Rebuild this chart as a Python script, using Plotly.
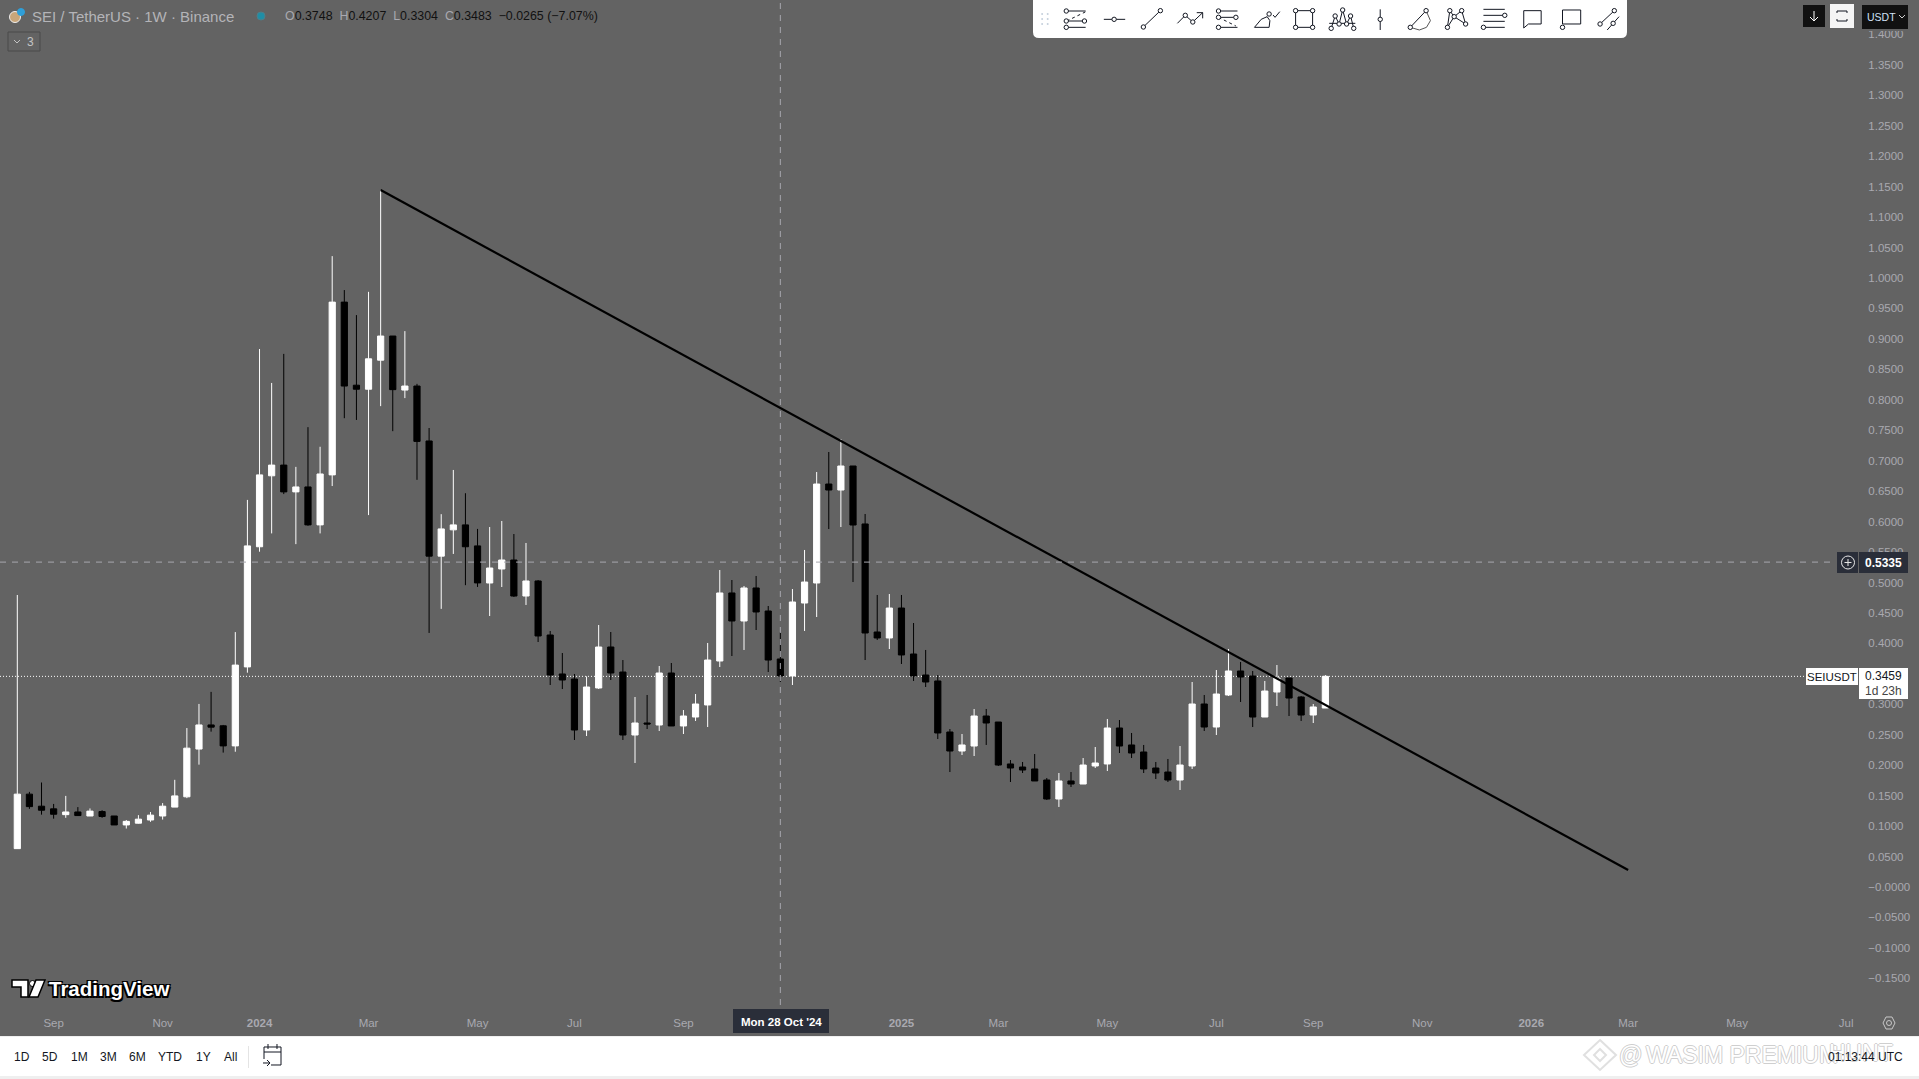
import pandas as pd
import plotly.graph_objects as go

# weekly SEIUSDT candles
first_week = "2023-08-14"
opens = [.0630, .1525, .1327, .1283, .1188, .1232, .1166, .1239, .1166, .1019, .1048, .1100, .1166, .1312, .1481, .2265,
         .2661, .2647, .2317, .3614, .5587, .6752, .6928, .6488, .6569, .5946, .6767, .9604, .8240, .8174, .8651, .9047,
         .8160, .8226, .7324, .5433, .5865, .5946, .5601, .4992, .5222, .5369, .4778, .5025, .4138, .3498, .3415, .2578,
         .3268, .3941, .3530, .2496, .2693, .2660, .3514, .2644, .2791, .2989, .3711, .4828, .4368, .4910, .4532, .3744,
         .3465, .4663, .4992, .6617, .6519, .6913, .5961, .4187, .4089, .4581, .3826, .3481, .3383, .2545, .2233, .2315,
         .2808, .2709, .2020, .1970, .1938, .1757, .1445, .1741, .1691, .1987, .2020, .2611, .2332, .2217, .1954, .1888,
         .1757, .1987, .3005, .2627, .3153, .3547, .3465, .2791, .3202, .3432, .3120, .2824, .2939]
highs = [.4795, .1562, .1716, .1364, .1496, .1312, .1290, .1261, .1166, .1100, .1180, .1232, .1378, .1760, .2610, .3006,
         .3204, .2661, .4186, .6356, .8834, .8277, .8754, .6899, .7551, .7229, 1.0359, .9802, .9391, .9773, 1.1444, .9047,
         .9128, .8262, .7537, .6122, .6848, .6466, .5880, .5911, .6010, .5796, .5649, .5041, .4204, .3842, .3498, .3459,
         .4302, .4187, .3727, .3120, .3153, .3629, .3678, .2906, .3169, .4007, .5205, .5041, .4943, .5107, .4614, .4187,
         .4893, .5534, .6814, .7143, .7356, .6913, .6125, .4795, .4811, .4795, .4335, .3892, .3481, .2594, .2512, .2923,
         .2923, .2709, .2085, .2053, .2184, .1790, .1872, .1888, .2118, .2299, .2759, .2742, .2529, .2332, .2053, .2102,
         .2315, .3366, .3153, .3563, .3908, .3695, .3547, .3383, .3645, .3432, .3136, .3005, .3481]
lows = [.0630, .1283, .1188, .1122, .1136, .1166, .1166, .1136, .1019, .0960, .1041, .1070, .1107, .1312, .1459, .2009,
        .2551, .2207, .2221, .3519, .5506, .5806, .6452, .5630, .5931, .5806, .6584, .7698, .7669, .6107, .7896, .7485,
        .8028, .6686, .4172, .4567, .5469, .4956, .4927, .4450, .4926, .4762, .4631, .4023, .3317, .3251, .2414, .2479,
        .3251, .3399, .2414, .2036, .2594, .2562, .2644, .2512, .2726, .2627, .3612, .3793, .3892, .4220, .3530, .3366,
        .3317, .4204, .4433, .5878, .5911, .5008, .3727, .4056, .3908, .3662, .3383, .3284, .2430, .1888, .2167, .2151,
        .2332, .1987, .1724, .1872, .1741, .1429, .1314, .1642, .1691, .1954, .1905, .2200, .2118, .1872, .1773, .1724,
        .1593, .1938, .2562, .2496, .3136, .3038, .2627, .2791, .2972, .2808, .2726, .2693, .2939]
closes = [.1525, .1320, .1261, .1195, .1232, .1173, .1246, .1158, .1019, .1078, .1114, .1180, .1327, .1496, .2280, .2661,
          .2625, .2317, .3644, .5601, .6767, .6928, .6488, .6569, .5946, .6782, .9604, .8226, .8174, .8673, .9047, .8167,
          .8226, .7317, .5433, .5880, .5946, .5587, .4993, .5238, .5369, .4778, .5025, .4122, .3481, .3399, .2578, .3284,
          .3941, .3514, .2496, .2693, .2677, .3514, .2644, .2808, .3005, .3727, .4828, .4368, .4910, .4516, .3727, .3465,
          .4680, .5008, .6617, .6519, .6913, .5944, .4171, .4089, .4581, .3810, .3465, .3366, .2529, .2233, .2332, .2808,
          .2693, .2003, .1954, .1921, .1741, .1445, .1741, .1691, .2003, .2036, .2611, .2315, .2200, .1938, .1872, .1757,
          .2003, .3005, .2627, .3169, .3547, .3448, .2791, .3218, .3432, .3103, .2824, .2956, .3459]

trend_dates = ["2024-03-11", "2026-03-02"]
trend_prices = [1.1444, .0280]

price_ticks = [1.40, 1.35, 1.30, 1.25, 1.20, 1.15, 1.10, 1.05, 1.00, .95, .90, .85, .80, .75, .70, .65, .60, .55, .50,
               .45, .40, .35, .30, .25, .20, .15, .10, .05, 0, -.05, -.10, -.15]
price_labels = ["1.4000", "1.3500", "1.3000", "1.2500", "1.2000", "1.1500", "1.1000", "1.0500", "1.0000", "0.9500",
                "0.9000", "0.8500", "0.8000", "0.7500", "0.7000", "0.6500", "0.6000", "0.5500", "0.5000", "0.4500",
                "0.4000", "0.3500", "0.3000", "0.2500", "0.2000", "0.1500", "0.1000", "0.0500", "−0.0000", "−0.0500",
                "−0.1000", "−0.1500"]
date_ticks = ["2023-09-04", "2023-11-06", "2024-01-01", "2024-03-04", "2024-05-06", "2024-07-01", "2024-09-02",
              "2025-01-06", "2025-03-03", "2025-05-05", "2025-07-07", "2025-09-01", "2025-11-03", "2026-01-05",
              "2026-03-02", "2026-05-04", "2026-07-06"]
date_labels = ["Sep", "Nov", "<b>2024</b>", "Mar", "May", "Jul", "Sep", "<b>2025</b>", "Mar", "May", "Jul", "Sep", "Nov",
               "<b>2026</b>", "Mar", "May", "Jul"]

last_price = .3459
cross_price = .5335
cross_date = "2024-10-28"
range_buttons = ["1D", "5D", "1M", "3M", "6M", "YTD", "1Y", "All"]

W, H = 1919, 1079
PLOT_W, PLOT_H = 1860, 1005
BG = "#636363"
AXIS_TEXT = "#a9a9b0"
DARK = "#2a2e39"
FONT = "Liberation Sans"


def fx(p):
    return p / PLOT_W


def fy(p):
    return 1 - p / PLOT_H


shapes = []
annotations = []


def rect(x0, y0, x1, y1, fill, line=None, layer="above"):
    shapes.append(dict(type="rect", xref="paper", yref="paper", x0=fx(x0), x1=fx(x1), y0=fy(y0), y1=fy(y1),
                       fillcolor=fill, line=dict(color=line or fill, width=1 if line else 0), layer=layer))


def path(pts, color="#131722", width=1, fill=None, close=False, dash=None):
    d = "M " + " L ".join(f"{fx(x):.5f} {fy(y):.5f}" for x, y in pts) + (" Z" if close else "")
    shapes.append(dict(type="path", xref="paper", yref="paper", path=d, layer="above", fillcolor=fill,
                       line=dict(color=color, width=width, dash=dash)))


def dot(x, y, r=2.2, fill="white", color="#131722", width=1):
    shapes.append(dict(type="circle", xref="paper", yref="paper", x0=fx(x - r), x1=fx(x + r), y0=fy(y + r), y1=fy(y - r),
                       fillcolor=fill, line=dict(color=color, width=width), layer="above"))


def label(x, y, text, size=12, color="#131722", anchor="left", **font):
    annotations.append(dict(xref="paper", yref="paper", x=fx(x), y=fy(y), text=text, showarrow=False, xanchor=anchor,
                            yanchor="middle", borderpad=0, font=dict(family=FONT, size=size, color=color, **font)))


# bottom strip
rect(0, 1037, W, 1076, "white")
rect(0, 1076, W, H, "#efefef")
rect(0, 1036, W, 1037, "#f0f0f0")

# header
label(31, 16, "SEI / TetherUS · 1W · Binance", size=15, color="#b4b4b8")
dot(15, 17, r=5.5, fill="#c9a67a", color="#eeeeee", width=1)
dot(21, 12, r=3.5, fill="#2f9fd8", color="#2f9fd8")
dot(261, 16, r=4, fill="#1f8ea6", color="#4d7f8a", width=1)
g = '<span style="color:#a9a9b0">%s</span>'
label(284, 16, (g % "O") + "0.3748  " + (g % "H") + "0.4207  " + (g % "L") + "0.3304  " + (g % "C") + "0.3483  −0.0265 (−7.07%)",
      size=12.4, color="#111111")
rect(8, 32, 40, 51, BG, line="#4b4b4b")
path([(14, 40), (17, 43), (20, 40)], color="#c4c4c4", width=1)
label(26, 42, "3", size=12, color="#c4c4c4")

# drawing toolbar, icon points taken from a zoomed crop of it
shapes.append(dict(type="path", xref="paper", yref="paper", layer="above", fillcolor="white", line=dict(width=0),
                   path=f"M {fx(1033)} {fy(0)} L {fx(1627)} {fy(0)} L {fx(1627)} {fy(32)} Q {fx(1627)} {fy(38)} {fx(1621)} {fy(38)} "
                        f"L {fx(1039)} {fy(38)} Q {fx(1033)} {fy(38)} {fx(1033)} {fy(32)} Z"))


def zx(v):
    return 1020 + v / 2.529


def zy(v):
    return v / 3


def zline(*pts, **kw):
    path([(zx(a), zy(b)) for a, b in pts], **kw)


def zdots(*pts):
    for a, b in pts:
        dot(zx(a), zy(b))


for a in (56, 70):
    for b in (42, 57, 72):
        dot(zx(a), zy(b), r=1, fill="#c5d0dc", color="#c5d0dc", width=0)
zline((118, 33), (166, 33)); zline((118, 63), (160, 63)); zline((118, 82), (166, 82))
zline((118, 63), (165, 36), dash="dot")
zdots((117, 33), (117, 63), (117, 82), (163, 63))
zline((212, 58), (266, 58)); zdots((238, 58))
zline((312, 81), (355, 32)); zdots((312, 81), (355, 32))
zline((398, 70), (418, 46), (437, 66), (462, 38)); zline((447, 38), (462, 38), (462, 55)); zdots((418, 46), (437, 66))
zline((500, 33), (550, 33)); zline((500, 52), (550, 52)); zline((500, 82), (550, 82))
zline((502, 52), (546, 78), dash="dot"); zdots((502, 33), (502, 52), (502, 82), (546, 52))
zline((593, 82), (630, 82), (632, 62), (625, 50), (610, 58), (593, 82)); zline((640, 45), (645, 52), (657, 35)); dot(zx(630), zy(42))
zline((697, 32), (740, 32), (740, 82), (697, 82), close=True); zdots((697, 32), (740, 32), (740, 82), (697, 82))
zline((782, 70), (848, 70))
zline((787, 85), (797, 48), (807, 72), (816, 30), (826, 72), (836, 48), (844, 85))
zdots((787, 85), (797, 48), (807, 72), (816, 30), (826, 72), (836, 48), (844, 85))
zline((911, 28), (911, 90)); zdots((911, 58))
zline((987, 82), (1027, 32)); zline((1027, 32), (1038, 62), (1028, 82), (1010, 90), (987, 82), color="#555555"); zdots((987, 82), (1027, 32))
zline((1081, 82), (1087, 32), (1098, 50), (1117, 32), (1127, 72), (1098, 50), (1081, 82)); zdots((1081, 82), (1087, 32), (1098, 50), (1117, 32), (1127, 72))
zline((1172, 28), (1226, 28)); zline((1172, 46), (1226, 46)); zline((1172, 64), (1226, 64)); zline((1172, 82), (1226, 82)); zdots((1226, 46), (1172, 82))
zline((1274, 84), (1274, 32), (1318, 32), (1318, 72), (1286, 72), close=True)
zline((1372, 72), (1372, 30), (1418, 30), (1418, 72), (1372, 72)); zdots((1372, 82))
zline((1467, 72), (1503, 32)); zline((1485, 90), (1515, 50)); zdots((1467, 72), (1503, 32), (1500, 70))

# top right buttons
rect(1803, 5, 1825, 27, "#111111")
path([(1814, 11), (1814, 21)], color="white"); path([(1810, 17), (1814, 21), (1818, 17)], color="white")
rect(1830, 4, 1854, 28, "#f5f5f5")
path([(1837, 13), (1837, 11), (1847, 11), (1847, 13)], color="#131722"); path([(1837, 19), (1837, 21), (1847, 21), (1847, 19)], color="#131722")
rect(1862, 29, 1908, 31, BG)
rect(1862, 5, 1908, 29, "#111111")
label(1866, 16.5, "USDT", size=10.5, color="#cfe2f5")
path([(1899, 15), (1902, 18), (1905, 15)], color="#d0d0d0")

# price tags on the right
rect(1837, 552, 1858, 573, DARK)
dot(1848, 562.5, r=6.5, fill=DARK, color="#e8e8e8", width=1)
path([(1848, 559), (1848, 566)], color="#e8e8e8"); path([(1844.5, 562.5), (1851.5, 562.5)], color="#e8e8e8")
rect(1859, 552, 1908, 573, DARK)
label(1883.5, 562.5, f"<b>{cross_price:.4f}</b>", color="white", anchor="center")
rect(1806, 668, 1858, 685, "white")
label(1832, 676.5, "SEIUSDT", color="#131722", anchor="center", size=11.5)
rect(1859, 668, 1908, 699, "white")
label(1883.5, 676, f"{last_price:.4f}", color="#131722", anchor="center")
label(1883.5, 691, "1d 23h", color="#444444", anchor="center")

# crosshair date tag
rect(733, 1009, 829, 1033, DARK)
label(781, 1022, "<b>Mon 28 Oct '24</b>", size=11.5, color="white", anchor="center")
dot(1889, 1023, r=2.5, fill=BG, color="#c8c8c8")
path([(1883, 1023), (1886, 1017), (1892, 1017), (1895, 1023), (1892, 1029), (1886, 1029)], color="#c8c8c8", close=True)

# logo
shadow = "-1.5px -1.5px 0 #000, 1.5px -1.5px 0 #000, -1.5px 1.5px 0 #000, 1.5px 1.5px 0 #000"
label(48, 988.5, "<b>TradingView</b>", size=20.5, color="white", shadow=shadow)
path([(12, 980), (28, 980), (28, 997), (21, 997), (21, 987), (12, 987)], color="black", width=1.5, fill="white", close=True)
dot(32.5, 983.5, r=3, fill="white", color="black")
path([(36, 980), (45, 980), (38, 997), (29, 997)], color="black", width=1.5, fill="white", close=True)

# bottom strip contents
for name, xc in zip(range_buttons, [22, 49.5, 79, 108, 137, 170, 203, 230]):
    label(xc, 1057, name, size=12, color="#131722", anchor="center")
path([(248.5, 1046), (248.5, 1068)], color="#e4e4e4")
path([(264, 1052), (281, 1052), (281, 1065), (271, 1065)], color="#131722")
path([(264, 1052), (264, 1059)], color="#131722"); path([(264, 1047), (281, 1047), (281, 1052)], color="#131722")
path([(264, 1047), (264, 1052)], color="#131722"); path([(268, 1044), (268, 1049)], color="#131722"); path([(277, 1044), (277, 1049)], color="#131722")
path([(263, 1063), (270, 1063)], color="#131722"); path([(267, 1060), (270, 1063), (267, 1066)], color="#131722")

# watermark over the clock
hollow = "-1px 0 #cfcfcf, 1px 0 #cfcfcf, 0 -1px #cfcfcf, 0 1px #cfcfcf"
path([(1600, 1040), (1616, 1055), (1600, 1070), (1584, 1055)], color="#e0e0e0", width=2, close=True)
path([(1600, 1049), (1606, 1055), (1600, 1061), (1594, 1055)], color="#e0e0e0", width=2, close=True)
label(1618, 1055, "@", size=23, color="white", shadow=hollow)
label(1645, 1055, "WASIM PREMIUM", size=23, color="white", shadow=hollow)
label(1828, 1053, "HUNT", size=23, color="white", shadow=hollow)
label(1827, 1057, "01:13:44 UTC", size=12, color="#131722")
rect(1600, 1076, 1919, 1079, "#efefef")

# price lines, the crosshair goes over the candles
shapes.append(dict(type="line", xref="paper", yref="y", x0=0, x1=fx(1805), y0=last_price, y1=last_price,
                   line=dict(color="white", width=1, dash="1px 2px"), layer="below"))
shapes.append(dict(type="line", xref="paper", yref="y", x0=0, x1=fx(1835), y0=cross_price, y1=cross_price,
                   line=dict(color="#a6a6ae", width=1, dash="6px 6px"), layer="above"))
shapes.append(dict(type="line", xref="x", yref="paper", x0=cross_date, x1=cross_date, y0=0, y1=1,
                   line=dict(color="#a6a6ae", width=1, dash="6px 6px"), layer="above"))

fig = go.Figure()
fig.add_trace(go.Candlestick(
    x=pd.date_range(first_week, periods=len(opens), freq="7D"),
    open=opens, high=highs, low=lows, close=closes,
    increasing=dict(line=dict(color="white", width=1), fillcolor="white"),
    decreasing=dict(line=dict(color="black", width=1), fillcolor="black"),
    whiskerwidth=0, showlegend=False,
))
fig.add_trace(go.Scatter(x=trend_dates, y=trend_prices, mode="lines", line=dict(color="black", width=2.2),
                         showlegend=False))

fig.update_layout(
    width=W, height=H,
    margin=dict(l=0, r=W - PLOT_W, t=0, b=H - PLOT_H, autoexpand=False),
    paper_bgcolor=BG, plot_bgcolor=BG,
    boxgap=0.27,
    font=dict(family=FONT, size=11.5, color=AXIS_TEXT),
    xaxis=dict(type="date", range=["2023-08-04", "2026-07-14"], showgrid=False, zeroline=False, showline=False,
               rangeslider=dict(visible=False), tickmode="array", tickvals=date_ticks, ticktext=date_labels,
               ticks="outside", ticklen=7, tickcolor=BG, tickangle=0),
    yaxis=dict(side="right", range=[-.19376, 1.4565], showgrid=False, zeroline=False, showline=False,
               tickmode="array", tickvals=price_ticks, ticktext=price_labels,
               ticks="outside", ticklen=5, tickcolor=BG),
    shapes=shapes, annotations=annotations,
)

fig.write_html("out.html", config={"displayModeBar": False},
               post_script="document.body.style.margin='0';document.body.style.overflow='hidden';")
